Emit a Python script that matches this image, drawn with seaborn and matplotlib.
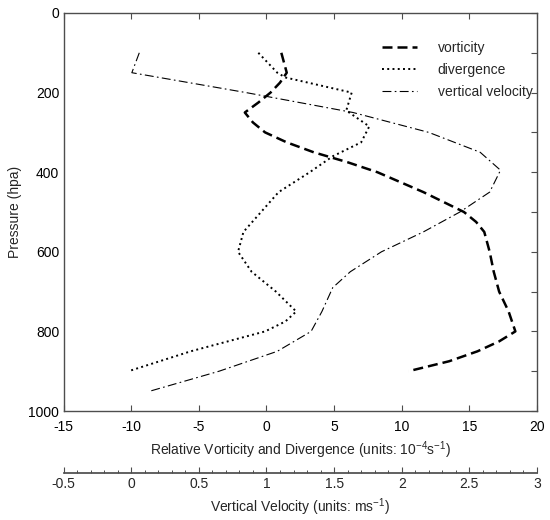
'''
Vertical profiles of vorticity, divergence and vertical velocity
'''

import numpy as np
import pandas as pd
import matplotlib
matplotlib.use('Agg')
import matplotlib.pyplot as plt
from matplotlib.ticker import MultipleLocator, FuncFormatter
import seaborn as sns

### Data
vort_p = [100, 150, 175, 200, 225, 250, 275, 300, 325, 350, 375, 400, 450, 500,
          525, 550, 600, 650, 700, 750, 800, 825, 850, 875, 900]
vort = [1.1, 1.5, 1.0, 0.3, -0.6, -1.6, -1.0, -0.1, 1.5, 3.5, 6.0, 8.2, 11.6, 14.6,
        15.5, 16.1, 16.5, 16.8, 17.2, 17.9, 18.4, 17.2, 15.6, 13.5, 10.5]

div_p = [100, 150, 162, 200, 245, 285, 325, 360, 400, 450, 500, 550, 600, 650,
         700, 750, 775, 800, 850, 900]
div = [-0.6, 0.8, 1.4, 6.3, 5.9, 7.6, 7.0, 4.9, 3.2, 0.9, -0.4, -1.7, -2.1, -1.1,
       0.7, 2.2, 1.4, -0.1, -5.6, -10.2]

vel_p = [100, 150, 200, 250, 300, 350, 395, 450, 500, 550, 600, 650, 690, 750,
         800, 850, 900, 950]
vel = [0.06, 0.005, 0.85, 1.64, 2.20, 2.58, 2.73, 2.65, 2.43, 2.16, 1.85, 1.62,
       1.49, 1.41, 1.33, 1.08, 0.65, 0.14]

vort_df = pd.DataFrame({'p': vort_p, 'val': vort})
div_df = pd.DataFrame({'p': div_p, 'val': div})
vel_df = pd.DataFrame({'p': vel_p, 'val': vel})

### Plot
sns.set_theme(style='white')
plt.rcParams['font.family'] = ['Liberation Sans', 'DejaVu Sans']
plt.rcParams['axes.unicode_minus'] = False
plt.rcParams['mathtext.default'] = 'regular'

fig = plt.figure(figsize=(5.5, 5.2), dpi=100)
ax = fig.add_axes([0.1155, 0.2096, 0.8609, 0.7654])
ax2 = ax.twiny()

sns.lineplot(data=vort_df, x='val', y='p', sort=False, estimator=None, ax=ax,
             color='black', lw=1.8, label='vorticity')
ax.lines[-1].set_dashes((4, 2))
sns.lineplot(data=div_df, x='val', y='p', sort=False, estimator=None, ax=ax,
             color='black', lw=1.4, label='divergence')
ax.lines[-1].set_dashes((1, 1.7))
sns.lineplot(data=vel_df, x='val', y='p', sort=False, estimator=None, ax=ax2,
             color='black', lw=0.8, label='vertical velocity')
ax2.lines[-1].set_dashes((8, 3, 1.5, 3))

spine_col = '0.3'
ax.set_xlim(-15, 20)
ax.set_ylim(1000, 0)
ax.xaxis.set_major_locator(MultipleLocator(5))
ax.yaxis.set_major_locator(MultipleLocator(100))
ax.yaxis.set_major_formatter(FuncFormatter(lambda v, pos: '%d' % v if v % 200 == 0 else ''))
ax.tick_params(direction='in', length=4, width=0.8, color=spine_col,
               top=True, right=True, labelsize=10, labelcolor='black', pad=3)
ax.tick_params(axis='x', pad=6.5)
for s in ax.spines.values():
    s.set_color(spine_col)
    s.set_linewidth(1.0)
ax.set_xlabel('Relative Vorticity and Divergence (units: 10$^{-4}$s$^{-1}$)',
              fontsize=10, labelpad=4)
ax.set_ylabel('Pressure (hpa)', fontsize=10, labelpad=5)

# second x-axis for vertical velocity, drawn below the main axis
ax2.set_xlim(-0.5, 3)
ax2.set_ylim(1000, 0)
ax2.xaxis.set_ticks_position('bottom')
ax2.xaxis.set_label_position('bottom')
ax2.spines['bottom'].set_position(('axes', -0.1545))
for name in ['top', 'left', 'right']:
    ax2.spines[name].set_visible(False)
ax2.spines['bottom'].set_color(spine_col)
ax2.xaxis.set_major_locator(MultipleLocator(0.5))
ax2.xaxis.set_minor_locator(MultipleLocator(0.1))
ax2.xaxis.set_major_formatter(FuncFormatter(lambda v, pos: ('%g' % v)))
ax2.tick_params(axis='x', which='major', direction='in', length=4, width=0.8,
                color=spine_col, labelsize=10, pad=3)
ax2.tick_params(axis='x', which='minor', direction='in', length=2.2, width=0.7,
                color=spine_col)
ax2.set_xlabel('Vertical Velocity (units: ms$^{-1}$)', fontsize=10, labelpad=4)

# legend
h1, l1 = ax.get_legend_handles_labels()
h2, l2 = ax2.get_legend_handles_labels()
ax.get_legend().remove()
ax2.get_legend().remove()
leg = ax2.legend(h1 + h2, l1 + l2, loc='upper right', bbox_to_anchor=(1.002, 0.943),
                 frameon=False, fontsize=10, handlelength=2.5, handletextpad=1.5,
                 labelspacing=0.55, borderaxespad=0)

fig.savefig('out.png', dpi=100)
